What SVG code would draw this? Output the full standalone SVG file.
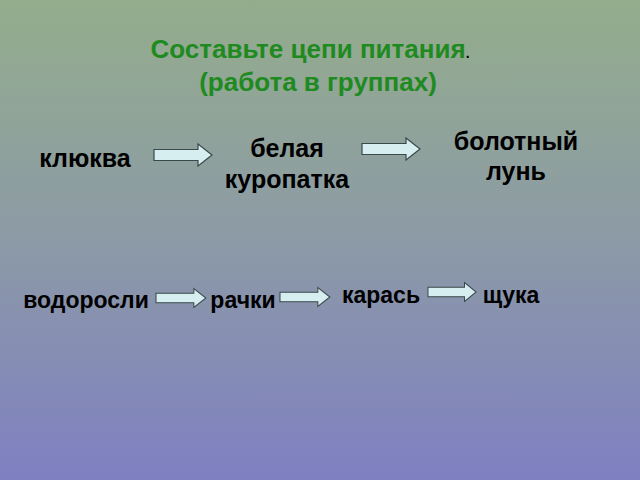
<svg xmlns="http://www.w3.org/2000/svg" width="640" height="480" viewBox="0 0 640 480">
<defs>
<linearGradient id="bg" x1="0" y1="0" x2="0" y2="1">
<stop offset="0" stop-color="#94ad8c"/>
<stop offset="0.5" stop-color="#8c9aa6"/>
<stop offset="1" stop-color="#7f80c2"/>
</linearGradient>
<path id="arr" d="M0,-5.5 H44 V-11 L58,0 L44,11 V5.5 H0 Z"/>
</defs>
<style>
.t{font-family:"Liberation Sans",Arial,sans-serif;font-weight:bold;font-size:25px;fill:#000;text-anchor:middle}
.s{font-size:23px}
.h{font-family:"Liberation Sans",Arial,sans-serif;font-weight:bold;font-size:26px;fill:#1f8a1f;text-anchor:middle}
.a{fill:#d6eef0;stroke:#3a4a4a;stroke-width:1.2}
</style>
<rect width="640" height="480" fill="url(#bg)"/>
<g id="title">
<text class="h" x="310" y="58">Составьте цепи питания<tspan fill="#000" font-size="14">.</tspan></text>
<text class="h" x="318" y="91">(работа в группах)</text>
</g>
<g id="n1"><text class="t" x="85" y="167">клюква</text></g>
<g id="n2"><text class="t" x="287" y="157">белая</text><text class="t" x="287" y="188">куропатка</text></g>
<g id="n3"><text class="t" x="516" y="150">болотный</text><text class="t" x="516" y="180">лунь</text></g>
<g id="n4"><text class="t s" x="86" y="308">водоросли</text></g>
<g id="n5"><text class="t s" x="243" y="308">рачки</text></g>
<g id="n6"><text class="t s" x="381" y="303">карась</text></g>
<g id="n7"><text class="t s" x="511" y="303">щука</text></g>
<g id="connectors">
<use href="#arr" class="a" transform="translate(156,298) scale(0.86,0.85)"/>
<use href="#arr" class="a" transform="translate(280,297) scale(0.86,0.85)"/>
<use href="#arr" class="a" transform="translate(428,292) scale(0.83,0.85)"/>
<use href="#arr" class="a" transform="translate(154,155)"/>
<use href="#arr" class="a" transform="translate(362,149)"/>
</g>
</svg>
